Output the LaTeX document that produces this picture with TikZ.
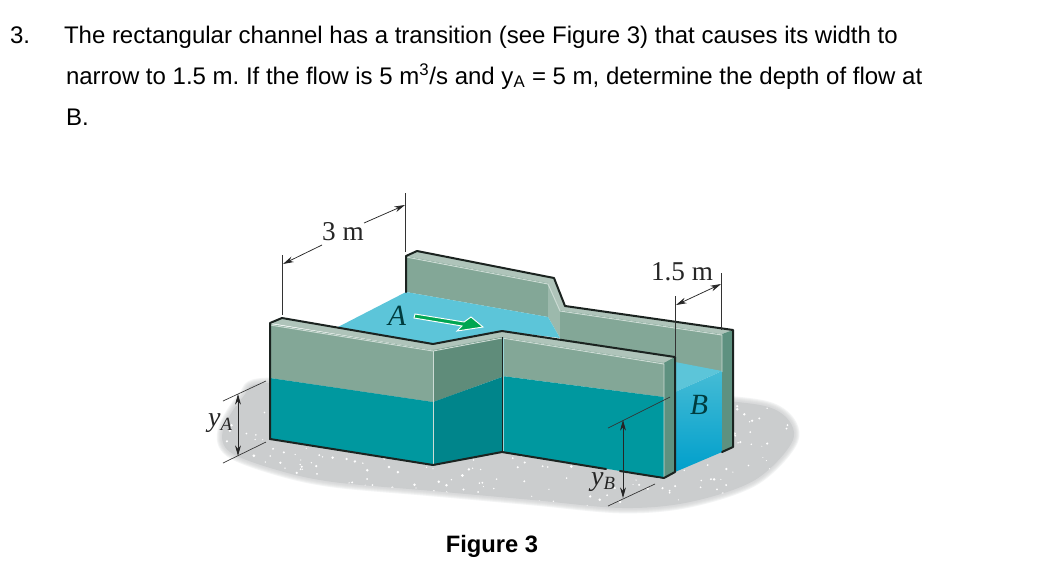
\documentclass[tikz,border=0pt]{standalone}
\usepackage{fontspec}
\setmainfont{Liberation Sans}
\newfontfamily\serifface{Liberation Serif}
\usetikzlibrary{arrows.meta}
\definecolor{wallface}{HTML}{83A797}
\definecolor{walltop}{HTML}{AFC4BA}
\definecolor{wallside}{HTML}{5F8C7A}
\definecolor{wallend}{HTML}{5E9180}
\definecolor{teal1}{HTML}{00989F}
\definecolor{teal2}{HTML}{00858B}
\definecolor{water}{HTML}{5CC5D9}
\definecolor{ground}{HTML}{CBCDCE}
\definecolor{edgek}{HTML}{1B2320}
\definecolor{arrowg}{HTML}{00A651}
\definecolor{waterdeep}{HTML}{009FCB}
\tikzset{
  x=0.75pt,y=-0.75pt,
  body/.style={font=\fontsize{18pt}{22pt}\selectfont\frenchspacing,anchor=base west,inner sep=0pt,outer sep=0pt},
  figlabel/.style={font=\fontsize{20.4pt}{22pt}\selectfont\serifface,inner sep=0pt,text=black!85},
  figital/.style={font=\fontsize{21pt}{22pt}\selectfont\serifface\itshape,inner sep=0pt,text=black!85},
  letterlabel/.style={font=\fontsize{22pt}{24pt}\selectfont\serifface\itshape,inner sep=0pt,text=teal2!45!black},
  dimline/.style={draw=black!80,line width=0.5pt},
  dimarrow/.style={draw=black!85,line width=0.55pt,-{Stealth[length=8pt,width=4.4pt]}},
  dimboth/.style={draw=black!85,line width=0.55pt,{Stealth[length=8pt,width=4.4pt]}-{Stealth[length=8pt,width=4.4pt]}},
  outline/.style={draw=edgek,line width=1.5pt,line join=round,line cap=round},
  glint/.style={draw=white!60!wallface,line width=0.7pt},
}
\newcommand{\SubA}{\textsubscript{A}}
\begin{document}
\begin{tikzpicture}
\useasboundingbox (0,0) rectangle (1049,583);
\fill[white] (0,0) rectangle (1049,583);
% text
\node[body] (num) at (10,43) {3.};
\node[body] (l1) at (64,43) {The rectangular channel has a transition (see Figure 3) that causes its width to};
\node[body] (l2) at (66,84) {narrow to 1.5 m. If the flow is 5 m\textsuperscript{3}/s and y\SubA{} = 5 m, determine the depth of flow at};
\node[body] (l3) at (66,125) {B.};
\node[font=\fontsize{17.8pt}{20pt}\selectfont\bfseries,inner sep=0pt] (fig) at (492,546) {Figure 3};
% ground
\def\blob{plot[smooth cycle,tension=0.55] coordinates {(267,383)(243,397)(223,430)(230,452)(277,470)(333,482)(433,491)(533,500)(623,508)(690,502)(755,480)(793,440)(781,413)(737,402)(600,395)(400,390)}}
\foreach \w in {8,6.5,5,3.5,2}{
  \draw[ground,line width=\w pt,opacity=.22,line join=round] \blob;
}
\fill[ground] \blob;
\begin{scope}
\clip \blob;
\pgfmathsetseed{7}
\foreach \i in {1,...,380}{
  \pgfmathsetmacro{\px}{225+570*rnd}
  \pgfmathsetmacro{\py}{400+110*rnd}
  \pgfmathsetmacro{\pr}{0.4+0.7*rnd}
  \fill[white] (\px,\py) circle[radius=\pr pt];
}
\end{scope}
% back wall
\fill[walltop] (406,256)--(417,251)--(554,278)--(565,306)--(733,330)--(722,334)--(560,310)--(548,283)--cycle;
\fill[wallface] (406,256)--(548,283)--(548,317)--(406,292)--cycle;
\fill[white!20!wallface] (548,283)--(560,310)--(560,338)--(548,317)--cycle;
\fill[wallface] (560,310)--(722,334)--(722,372)--(675,365)--(560,345)--cycle;
% water surface
\fill[water] (406,292)--(548,317)--(560,338)--(502,331)--(433,344)--(338,327)--cycle;
\fill[water] (675,362)--(722,371)--(675,392)--cycle;
\shade[top color=water!75!waterdeep,bottom color=waterdeep] (675,392)--(722,371)--(722,452)--(675,472)--cycle;
% end face of back wall
\fill[wallend] (722,334)--(733,330)--(733,447)--(722,452)--cycle;
% front wall faces
\fill[walltop] (270,323)--(282,318)--(433,344)--(502,331)--(675,357)--(664,363)--(502,337)--(433,350)--cycle;
\fill[wallface] (270,324)--(433,350)--(433,402)--(270,378)--cycle;
\fill[wallside] (433,350)--(502,337)--(502,377)--(433,402)--cycle;
\fill[wallface] (502,337)--(664,363)--(664,397)--(502,376)--cycle;
\fill[teal1] (270,378)--(433,402)--(433,465)--(270,439)--cycle;
\fill[teal2] (433,402)--(502,377)--(502,452)--(433,465)--cycle;
\fill[teal1] (502,376)--(664,397)--(664,478)--(502,452)--cycle;
\fill[wallend] (664,363)--(675,357)--(675,472)--(664,478)--cycle;
% glints
\draw[glint] (270,325)--(433,351)--(502,338)--(664,364)--(664,478);
\draw[glint] (433,351)--(433,465);
\draw[glint] (406,257)--(548,284)--(560,311)--(722,335)--(722,372);
\draw[line width=0.7pt,white!60!teal1] (503,338)--(503,452);
\draw[line width=0.5pt,edgek] (502,337)--(502,452);
% outlines
\draw[outline] (406,292)--(406,256)--(417,251)--(554,278)--(565,306)--(733,330)--(733,447)--(722,452);
\draw[outline] (270,439)--(270,323)--(282,318)--(433,344)--(502,331)--(675,357)--(675,472)--(664,478)--(620,471);
\draw[outline] (606,469)--(502,452)--(433,465)--(270,439);
% dimension 3 m
\coordinate (ea1) at (282,255); \coordinate (ea2) at (282,315);
\coordinate (eb1) at (405,193); \coordinate (eb2) at (405,252);
\coordinate (da) at (322,245); \coordinate (da2) at (283,264);
\coordinate (db) at (364,223); \coordinate (db2) at (405,205);
\draw[dimline] (ea1)--(ea2);
\draw[dimline] (eb1)--(eb2);
\draw[dimarrow] (da)--(da2);
\draw[dimarrow] (db)--(db2);
\node[figlabel] (t3m) at (343,232) {3 m};
% dimension 1.5 m
\coordinate (ec1) at (675,296); \coordinate (ec2) at (675,357);
\coordinate (ed1) at (721,273); \coordinate (ed2) at (721,330);
\coordinate (dc) at (676,305); \coordinate (dd) at (721,284);
\draw[dimline] (ec1)--(ec2);
\draw[dimline] (ed1)--(ed2);
\draw[dimboth] (dc)--(dd);
\node[figlabel] (t15) at (682,272) {1.5 m};
% yA
\coordinate (ya1) at (223,401); \coordinate (ya2) at (266,381);
\coordinate (ya3) at (223,463); \coordinate (ya4) at (266,442);
\coordinate (ya5) at (238,394); \coordinate (ya6) at (238,456);
\draw[dimline] (ya1)--(ya2);
\draw[dimline] (ya3)--(ya4);
\draw[dimboth] (ya5)--(ya6);
\node[figital] (tya) at (220,423) {y\raisebox{-3pt}{\fontsize{14pt}{15pt}\selectfont A}};
% yB
\coordinate (yb1) at (608,428); \coordinate (yb2) at (670,397);
\coordinate (yb3) at (608,506); \coordinate (yb4) at (655,484);
\coordinate (yb5) at (623,420); \coordinate (yb6) at (623,498);
\draw[dimline] (yb1)--(yb2);
\draw[dimline] (yb3)--(yb4);
\draw[dimboth] (yb5)--(yb6);
\node[figital] (tyb) at (603,482) {y\raisebox{-3pt}{\fontsize{14pt}{15pt}\selectfont B}};
% labels A, B
\node[letterlabel] (la) at (397,316) {A};
\node[letterlabel] (lb) at (699,405) {B};
% flow arrow
\fill[arrowg,draw=white,line width=0.7pt,line join=miter] (415,314)--(464,322)--(471,317)--(483,327)--(457,331)--(462,326)--(414,318)--cycle;
\end{tikzpicture}
\end{document}
